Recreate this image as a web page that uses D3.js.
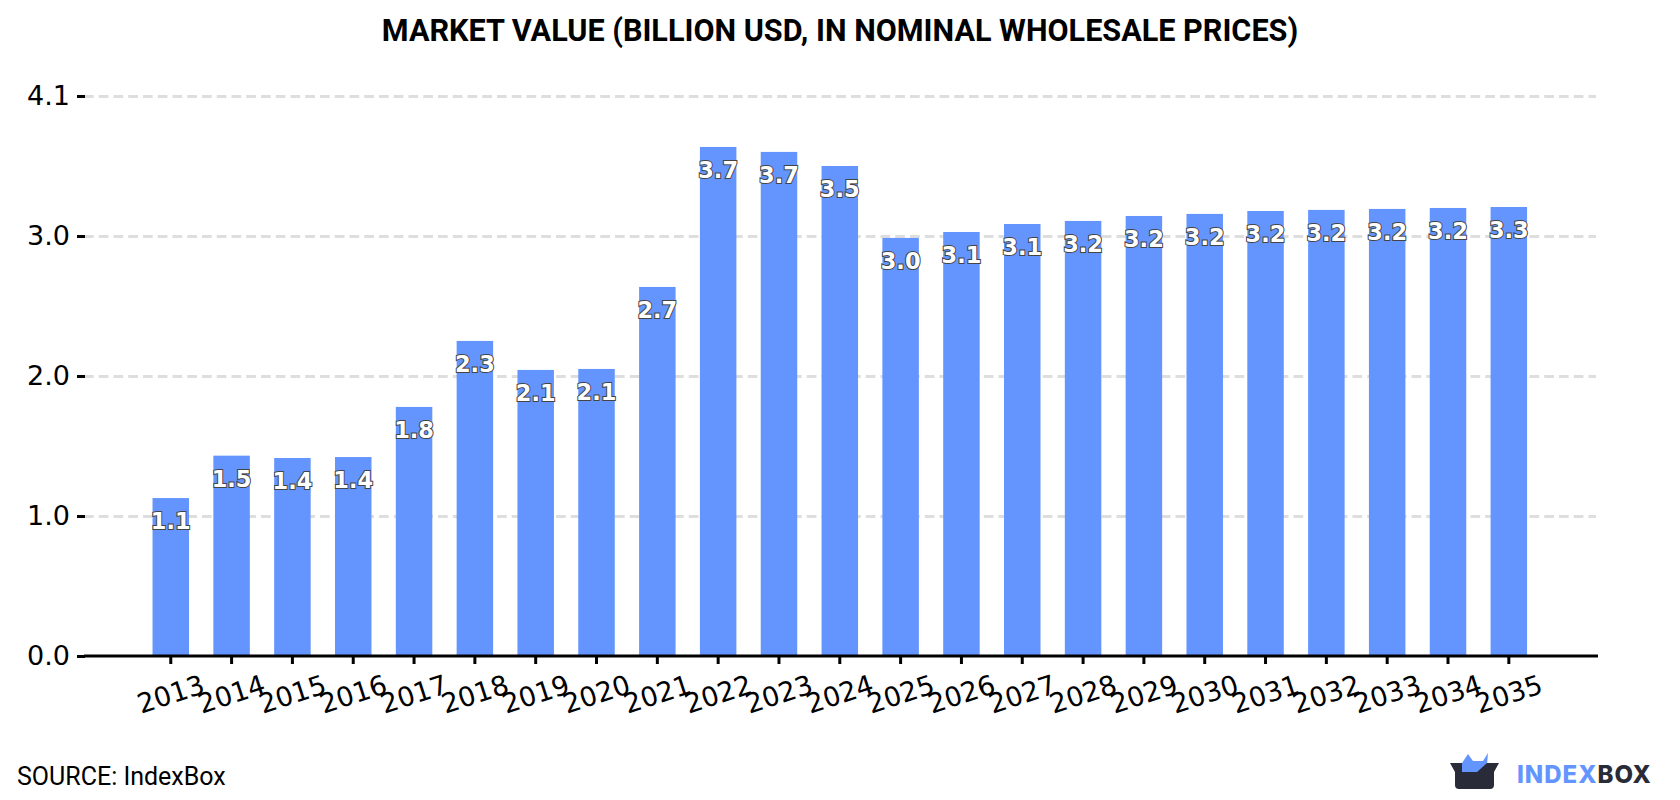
<!DOCTYPE html>
<html>
<head>
<meta charset="utf-8">
<title>Market value</title>
<script src="https://cdn.jsdelivr.net/npm/d3@7/dist/d3.min.js"></script>
<style>
  html, body { margin: 0; padding: 0; background: #fff; }
  svg { display: block; }
  .tick-label { font-family: "DejaVu Sans", sans-serif; font-size: 27px; fill: #000; }
</style>
</head>
<body>
<svg id="chart" width="1680" height="800"></svg>
<script>
// Market value in billion USD, one entry per year
const years = ["2013","2014","2015","2016","2017","2018","2019","2020","2021","2022","2023","2024",
               "2025","2026","2027","2028","2029","2030","2031","2032","2033","2034","2035"];
const marketValue = [1.144,1.451,1.434,1.441,1.804,2.282,2.072,2.079,2.673,3.687,3.651,3.549,
                     3.028,3.071,3.129,3.151,3.187,3.202,3.223,3.231,3.238,3.245,3.252];
// The value axis is divided into four equal parts up to its maximum
const valueTicks = [0, 1.014, 2.028, 3.042, 4.056];

const titleText = "MARKET VALUE (BILLION USD, IN NOMINAL WHOLESALE PRICES)";
const sourceText = "SOURCE: IndexBox";

const svg = d3.select("#chart");
const fmt = d3.format(".1f");

const x = d3.scaleBand().domain(years).range([83.5, 1596.1]).paddingInner(0.4).paddingOuter(1.135);
const y = d3.scaleLinear().domain([0, 4.056]).range([656, 96]);

svg.append("text")
  .attr("x", 840).attr("y", 41)
  .attr("text-anchor", "middle")
  .style("font-family", "Roboto, sans-serif")
  .style("font-weight", 700)
  .style("font-size", "30.6px")
  .text(titleText);

// Dashed horizontal grid, behind the bars
const grid = svg.append("g").attr("transform", "translate(84,0)")
  .call(d3.axisRight(y).tickValues(valueTicks.slice(1)).tickSize(1512).tickFormat(""));
grid.select(".domain").remove();
grid.selectAll("line")
  .attr("stroke", "#dedede").attr("stroke-width", 3).attr("stroke-dasharray", "9.7 5.05");

// Bars
svg.append("g").selectAll("rect").data(marketValue).join("rect")
  .attr("x", (d, i) => x(years[i]))
  .attr("width", x.bandwidth())
  .attr("y", d => y(d))
  .attr("height", d => y(0) - y(d))
  .attr("fill", "#6495ff");

// Value axis
const yAxis = svg.append("g").attr("transform", "translate(85,0)")
  .call(d3.axisLeft(y).tickValues(valueTicks).tickSize(8).tickPadding(7).tickFormat(fmt));
yAxis.select(".domain").remove();
yAxis.selectAll("line").attr("stroke", "#000").attr("stroke-width", 3);
yAxis.selectAll("text").attr("class", "tick-label").attr("fill", "#000");

// Year axis with slanted labels
const xAxis = svg.append("g").attr("transform", "translate(0,656)")
  .call(d3.axisBottom(x).tickSize(8).tickSizeOuter(0));
xAxis.select(".domain").attr("d", "M84,0H1598").attr("stroke", "#000").attr("stroke-width", 3);
xAxis.selectAll("line").attr("stroke", "#000").attr("stroke-width", 3);
xAxis.selectAll("text")
  .attr("class", "tick-label")
  .attr("fill", "#000")
  .attr("text-anchor", "middle")
  .attr("dy", null)
  .attr("y", 0)
  .attr("dominant-baseline", "central")
  .attr("transform", "translate(0,38) rotate(-18)");

// Value labels, white with a dark outline, just under each bar top
svg.append("g").selectAll("text").data(marketValue).join("text")
  .attr("x", (d, i) => x(years[i]) + x.bandwidth() / 2)
  .attr("y", d => y(d) + 31)
  .attr("text-anchor", "middle")
  .style("font-family", "'DejaVu Sans', sans-serif")
  .style("font-weight", 700)
  .style("font-size", "22.5px")
  .style("paint-order", "stroke")
  .attr("fill", "#fff")
  .attr("stroke", "#444")
  .attr("stroke-width", 2)
  .text(d => fmt(d));

svg.append("text")
  .attr("x", 17).attr("y", 784.5)
  .style("font-family", "Roboto, sans-serif")
  .style("font-size", "25px")
  .text(sourceText);

// IndexBox logo
const logo = svg.append("g").attr("transform", "translate(1450,753)");
logo.append("path")
  .attr("d", "M12,10 L18,1 L23,8 H33 L38,0 L37,12 V20 H12 Z")
  .attr("fill", "#6495ff");
logo.append("path")
  .attr("d", "M0,10 H12 V19 H27 L37,10 H49 L44,19 V32 Q44,36 40,36 H9 Q5,36 5,32 V19 Z")
  .attr("fill", "#2a2b38");
const wordmark = svg.append("text")
  .attr("x", 1517).attr("y", 783)
  .style("font-family", "Inter, sans-serif")
  .style("font-weight", 800)
  .style("font-size", "24px")
  .style("letter-spacing", "1px");
wordmark.append("tspan").attr("fill", "#6495ff").text("INDEX");
wordmark.append("tspan").attr("fill", "#2a2b38").text("BOX");
</script>
</body>
</html>
